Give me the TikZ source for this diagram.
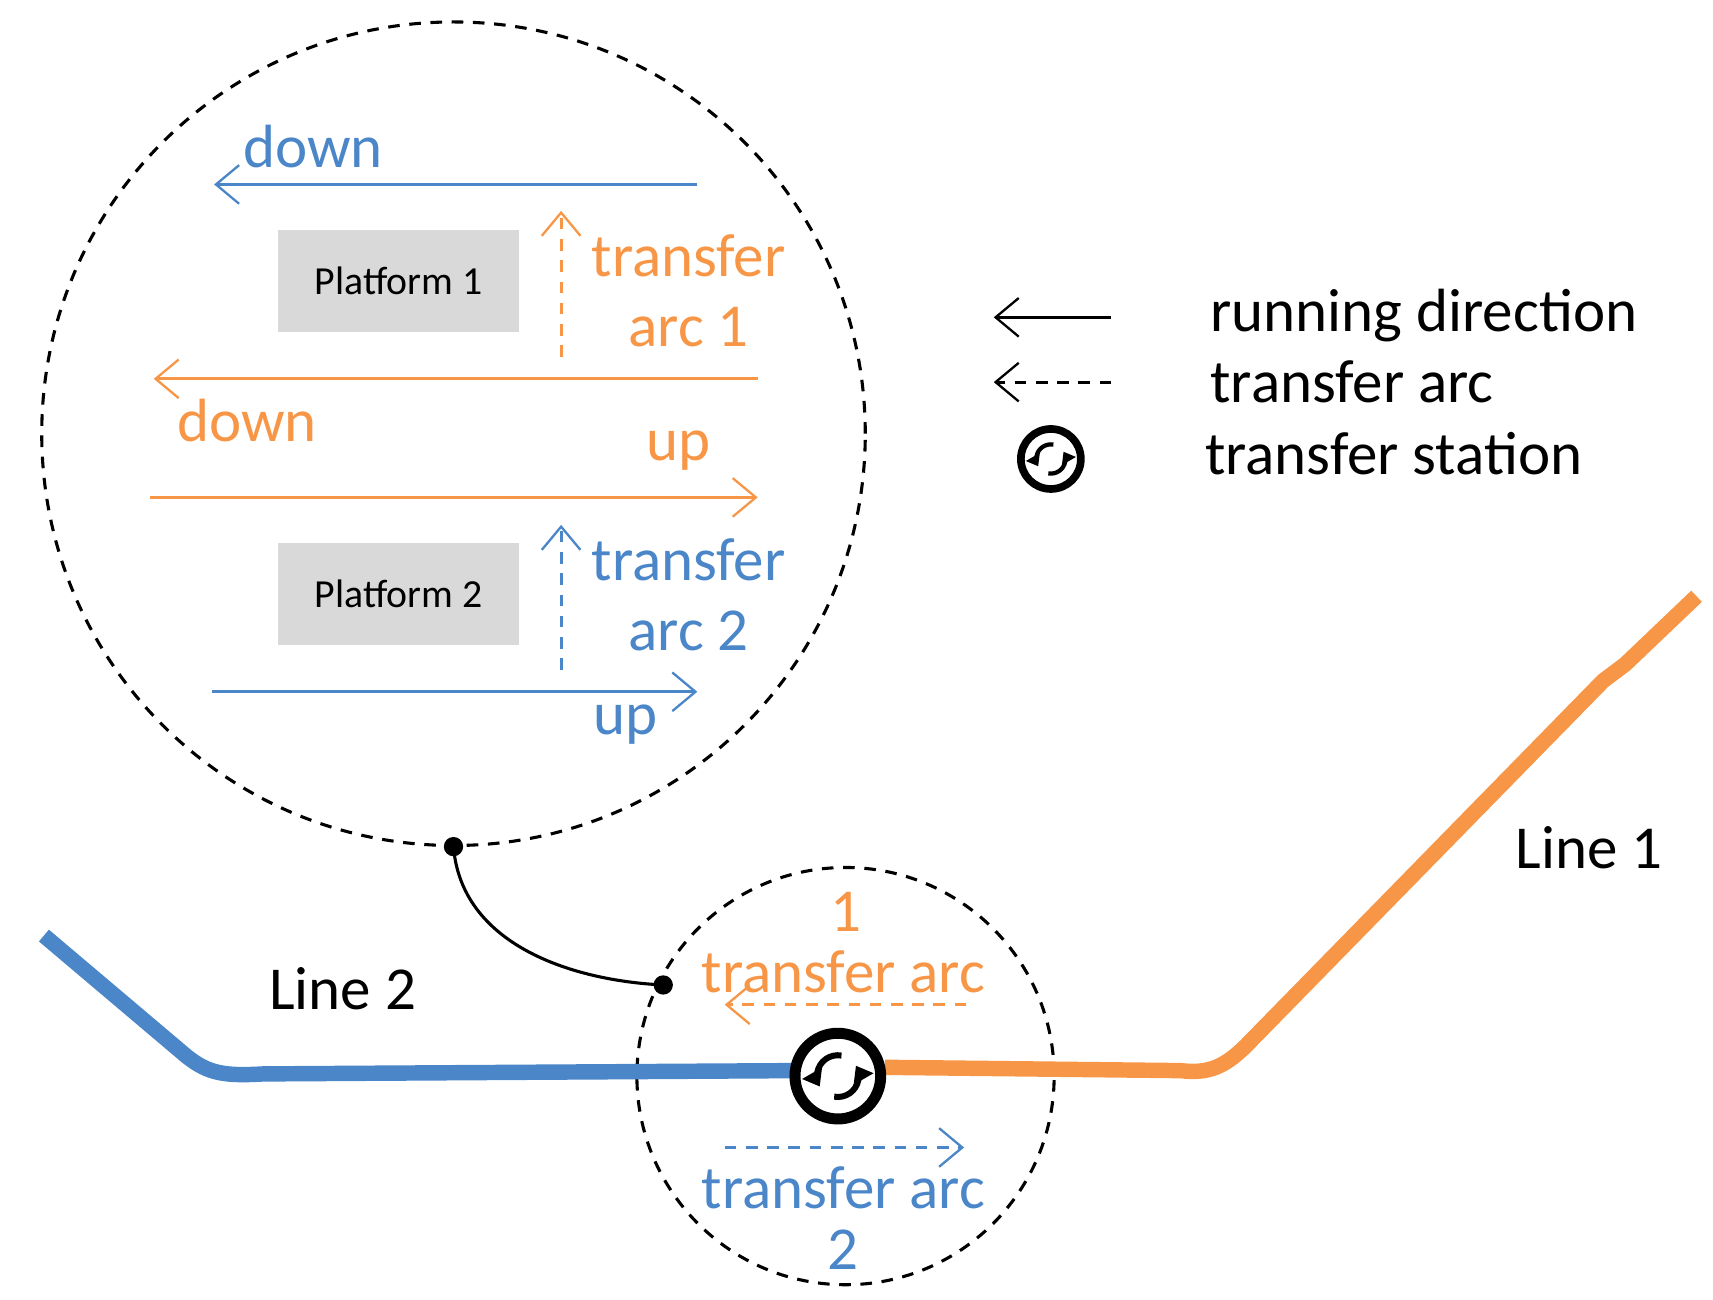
\documentclass[tikz,border=0pt]{standalone}
\usepackage{fontspec}
\setmainfont{Carlito}
\usetikzlibrary{arrows.meta}
\definecolor{bl}{HTML}{4A86C8}
\definecolor{og}{HTML}{F79646}
\begin{document}
\begin{tikzpicture}[x=0.01cm,y=-0.01cm,
  big/.style={font=\fontsize{15.8}{17}\selectfont},
  tip/.style={-{Straight Barb[length=6pt,width=10pt,line width=0.6pt]}},
  arr/.style={tip,line width=0.8pt},
  darr/.style={tip,line width=0.8pt,dash pattern=on 3pt off 2.5pt},
  zone/.style={draw,dash pattern=on 3pt off 2.5pt,line width=0.8pt},
  plat/.style={fill=black!15,minimum width=220*0.01cm,minimum height=93*0.01cm,font=\fontsize{10.3}{12}\selectfont},
  dot/.style={circle,fill=black,inner sep=0,minimum size=5pt},
  icon/.pic={
    \draw[line width=#1*0.2] (0,0) circle (#1*0.78);
    \draw[line width=#1*0.11,-{Triangle[length=#1*0.28,width=#1*0.4]}] (80:#1*0.38) arc (80:210:#1*0.38);
    \draw[line width=#1*0.11,-{Triangle[length=#1*0.28,width=#1*0.4]}] (260:#1*0.38) arc (260:390:#1*0.38);
  }]
\useasboundingbox (0,0) rectangle (1560,1183);
% circles
\node[zone,circle,minimum size=750*0.01cm] (bigc) at (413,395) {};
\node[zone,circle,minimum size=380*0.01cm] (smc) at (770,980) {};
\node[dot] (d1) at (413,771) {};
\node[dot] (d2) at (604,897) {};
\draw[line width=0.8pt] (d1.center) .. controls (420,860) and (520,893) .. (d2.center);
% lines
\coordinate (st) at (763,980);
\draw[bl,line width=4pt] (40,852) -- (170,962) .. controls (190,978) and (205,980) .. (240,978) -- (723,975);
\draw[og,line width=4pt] (806,972) -- (1075,975) .. controls (1100,978) and (1115,972) .. (1135,952) -- (1460,620) -- (1480,605) -- (1545,543);
\pic at (st) {icon=0.5cm};
\node[big] at (312,900) {Line 2};
\node[big] at (1447,772) {Line 1};
% big circle content
\coordinate (a1) at (635,168); \coordinate (a2) at (195,168);
\draw[arr,bl] (a1) -- (a2);
\node[big,bl] at (285,133) {down};
\node[plat] (p1) at (363,256) {Platform 1};
\coordinate (t1a) at (511,325); \coordinate (t1b) at (511,192);
\draw[darr,og] (t1a) -- (t1b);
\node[big,og] at (627,233) {transfer};
\node[big,og] at (627,298) {arc 1};
\coordinate (b1) at (690,345); \coordinate (b2) at (140,345);
\draw[arr,og] (b1) -- (b2);
\node[big,og] at (225,383) {down};
\node[big,og] at (618,410) {up};
\coordinate (c1) at (137,453); \coordinate (c2) at (690,453);
\draw[arr,og] (c1) -- (c2);
\node[plat] (p2) at (363,541) {Platform 2};
\coordinate (t2a) at (511,610); \coordinate (t2b) at (511,478);
\draw[darr,bl] (t2a) -- (t2b);
\node[big,bl] at (627,510) {transfer};
\node[big,bl] at (627,575) {arc 2};
\coordinate (e1) at (193,630); \coordinate (e2) at (635,630);
\draw[arr,bl] (e1) -- (e2);
\node[big,bl] at (570,660) {up};
% small circle content
\node[big,og] at (770,830) {1};
\node[big,og] at (768,885) {transfer arc};
\coordinate (f1) at (880,915); \coordinate (f2) at (660,915);
\draw[darr,og] (f1) -- (f2);
\coordinate (g1) at (660,1045); \coordinate (g2) at (878,1045);
\draw[darr,bl] (g1) -- (g2);
\node[big,bl] at (768,1082) {transfer arc};
\node[big,bl] at (768,1138) {2};
% legend
\coordinate (l1) at (1012,289); \coordinate (l2) at (905,289);
\draw[arr,black] (l1) -- (l2);
\node[big,anchor=west] at (1090,287) {running direction};
\coordinate (m1) at (1012,348); \coordinate (m2) at (905,348);
\draw[darr,black] (m1) -- (m2);
\node[big,anchor=west] at (1090,348) {transfer arc};
\pic at (957,418) {icon=0.35cm};
\node[big,anchor=west] at (1085,413) {transfer station};
\end{tikzpicture}
\end{document}
